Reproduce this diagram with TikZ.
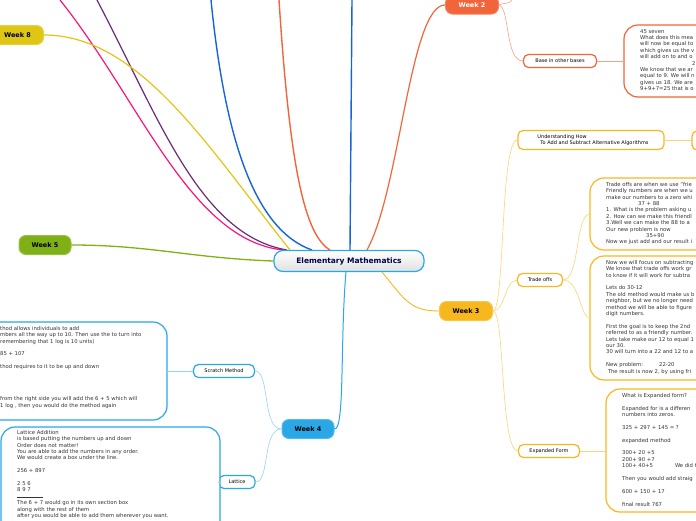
\documentclass[tikz,border=0pt]{standalone}
\usepackage{fontspec}
\setmainfont{DejaVu Sans}
\begin{document}
\begin{tikzpicture}[x=1pt,y=-1pt,
 main/.style={rounded corners=9pt,draw=#1,line width=1.2pt},
 week/.style={rounded corners=7pt,fill=#1,draw=#1!80!white,line width=1pt,font=\fontsize{6.5}{7}\selectfont\bfseries},
 sub/.style={rounded corners=5pt,draw=#1,fill=white,line width=1.2pt,font=\fontsize{5}{5.5}\selectfont},
 big/.style={rounded corners=14pt,draw=#1,fill=white,line width=1.2pt},
 txt/.style={font=\fontsize{5.3}{6.4}\selectfont,align=left,anchor=north west,inner sep=0pt,text=black!80},
 ln/.style={line width=#1}]
\useasboundingbox (0,0) rectangle (696,520);
\definecolor{oc}{HTML}{F2643A}\definecolor{yc}{HTML}{F7B81F}\definecolor{bc}{HTML}{2AA7E6}
\definecolor{gc}{HTML}{7FB015}\definecolor{w8}{HTML}{E0C614}\definecolor{pk}{HTML}{F5177B}
\definecolor{pu}{HTML}{6B2B7A}\definecolor{bl}{HTML}{1565D8}
% coordinates
\coordinate (c1) at (283,250);\coordinate (c2) at (287,250);\coordinate (c3) at (290,250);
\coordinate (c4) at (312,250);\coordinate (c5) at (330,250);\coordinate (c6) at (350,250);\coordinate (c7) at (367,250);
\coordinate (t1) at (60,0);\coordinate (t2) at (97,0);\coordinate (t4) at (211,0);\coordinate (t5) at (279,0);\coordinate (t6) at (352,0);
% top lines
\draw[pk,ln=1.2pt] (t1) .. controls (140,100) and (190,240) .. (c1);
\draw[pu,ln=1.2pt] (t2) .. controls (160,120) and (200,235) .. (c2);
\draw[bl,ln=1.4pt] (t4) .. controls (225,140) and (255,230) .. (c4);
\draw[oc,ln=1.4pt] (t5) .. controls (290,170) and (305,235) .. (c5);
\draw[bl,ln=1.4pt] (t6) -- (c6);
% nodes
\node[week=w8,minimum width=60pt,minimum height=19pt,anchor=east,text=black] (w8) at (44,35) {\hspace{8pt}Week 8};
\node[week=gc,minimum width=52pt,minimum height=19pt,text=black] (w5) at (45,245) {Week 5};
\node[week=oc,minimum width=53pt,minimum height=18pt,text=white] (w2) at (472,5) {Week 2};
\node[week=yc,minimum width=53pt,minimum height=19pt,text=black] (w3) at (466,311) {Week 3};
\node[week=bc,minimum width=52pt,minimum height=19pt,text=black] (w4) at (308,429) {Week 4};
\draw[w8,ln=1.2pt] (w8.east) .. controls (140,35) and (210,150) .. (c3);
\draw[oc,ln=1.2pt] (w2.west) .. controls (410,5) and (400,190) .. (c7);
\node[main=bc,top color=white,bottom color=black!12,minimum width=150pt,minimum height=21pt,font=\fontsize{7.5}{8}\selectfont\bfseries,text=blue!30!black] (em) at (349,261) {Elementary Mathematics};
\draw[gc,ln=1.3pt] (w5.east) .. controls (150,245) and (190,258) .. (em.west);
\draw[yc,ln=0.9pt] (382,272) .. controls (405,300) and (410,311) .. (w3.west);
\draw[bc,ln=1pt] (346,272) .. controls (340,340) and (345,430) .. (w4.east);
% Week 2 children
\node[sub=oc,minimum width=73pt,minimum height=13pt] (base) at (560,61) {Base in other bases};
\draw[oc!60,ln=0.6pt] (w2.east) .. controls (505,2) and (508,5) .. (512,0);
\draw[oc!60,ln=0.6pt] (w2.east) .. controls (510,8) and (505,61) .. (base.west);
\draw[big=oc] (624,25) rectangle (720,97);
\coordinate (bb) at (624,61);
\draw[oc!60,ln=0.6pt] (base.east) -- (bb);
\node[txt] at (640,29) {45 seven\\What does this mea\\will now be equal to\\which gives us the v\\will add on to and o\\\mbox{}\hspace{52pt}2\\We know that we ar\\equal to 9. We will n\\gives us 18. We are\\9+9+7=25 that is o};
% Week 3 children
\node[sub=yc,minimum width=146pt,minimum height=19pt,align=left] (und) at (591,140) {\hspace{4pt}Understanding How\\\hspace{7pt}To Add and Subtract Alternative Algorithms};
\draw[yc!60,ln=0.6pt] (w3.east) .. controls (505,311) and (500,140) .. (und.west);
\draw[sub=yc] (692,131) rectangle (720,150);
\draw[yc!60,ln=0.6pt] (und.east) -- (692,140);
\node[sub=yc,minimum width=45pt,minimum height=13pt] (tr) at (540,280) {Trade offs};
\draw[yc!60,ln=0.6pt] (w3.east) .. controls (505,311) and (505,280) .. (tr.west);
\node[sub=yc,minimum width=61pt,minimum height=13pt] (ex) at (549,451) {Expanded Form};
\draw[yc!60,ln=0.6pt] (w3.east) .. controls (505,311) and (500,451) .. (ex.west);
\draw[big=yc] (590,178) rectangle (720,250);
\draw[big=yc] (590,256) rectangle (720,380);
\draw[big=yc] (606,389) rectangle (720,512);
\draw[yc!60,ln=0.6pt] (tr.east) .. controls (580,280) and (575,214) .. (590,214);
\draw[yc!60,ln=0.6pt] (tr.east) .. controls (580,280) and (580,318) .. (590,318);
\draw[yc!60,ln=0.6pt] (ex.east) -- (606,451);
\node[txt] at (606,182) {Trade offs are when we use "frie\\Friendly numbers are when we u\\make our numbers to a zero whi\\\mbox{}\hspace{32pt}37 + 88\\1. What is the problem asking u\\2. How can we make this friendl\\3.Well we can make the 88 to a\\Our new problem is now\\\mbox{}\hspace{40pt}35+90\\Now we just add and our result i};
\node[txt] at (606,260) {Now we will focus on subtracting\\We know that trade offs work gr\\to know if it will work for subtra\\\\Lets do 30-12\\The old method would make us b\\neighbor, but we no longer need\\method we will be able to figure\\digit numbers.\\\\First the goal is to keep the 2nd\\referred to as a friendly number.\\Lets take make our 12 to equal 1\\our 30.\\30 will turn into a 22 and 12 to a\\\\New problem:\hspace{16pt}22-20\\\ The result is now 2, by using fri};
\node[txt] at (622,393) {What is Expanded form?\\\\Expanded for is a differen\\numbers into zeros.\\\\325 + 297 + 145 = ?\\\\expanded method\\\\300+ 20 +5\\200+ 90 +7\\100+ 40+5\hspace{22pt}We did t\\\\Then you would add straig\\\\600 + 150 + 17\\\\final result 767};
% Week 4 children
\node[sub=bc,minimum width=61pt,minimum height=13pt] (scr) at (224,371) {Scratch Method};
\node[sub=bc,minimum width=36pt,minimum height=13pt] (lat) at (237,482) {Lattice};
\draw[bc!50,ln=0.6pt] (w4.west) .. controls (262,429) and (270,371) .. (scr.east);
\draw[bc!50,ln=0.6pt] (w4.west) .. controls (262,429) and (270,482) .. (lat.east);
\draw[big=bc] (-20,322) rectangle (167,420);
\draw[big=bc] (1,427) rectangle (220,540);
\draw[bc!50,ln=0.6pt] (167,371) -- (scr.west);
\draw[bc!50,ln=0.8pt] (lat.west) -- (220,482);
\node[txt] at (0,326) {thod allows individuals to add\\mbers all the way up to 10. Then use the to turn into\\remembering that 1 log is 10 units)\\\\85 + 107\\\\thod requires to it to be up and down\\\\\\\\\\from the right side you will add the 6 + 5 which will\\1 log , then you would do the method again};
\node[txt] at (17,430) {Lattice Addition\\is based putting the numbers up and down\\Order does not matter!\\You are able to add the numbers in any order.\\We would create a box under the line.\\\\256 + 897\\\\2 5 6\\8 9 7\\\rule[1pt]{26pt}{0.3pt}\\The 6 + 7 would go in its own section box\\along with the rest of them\\after you would be able to add them wherever you want.};
\end{tikzpicture}
\end{document}
